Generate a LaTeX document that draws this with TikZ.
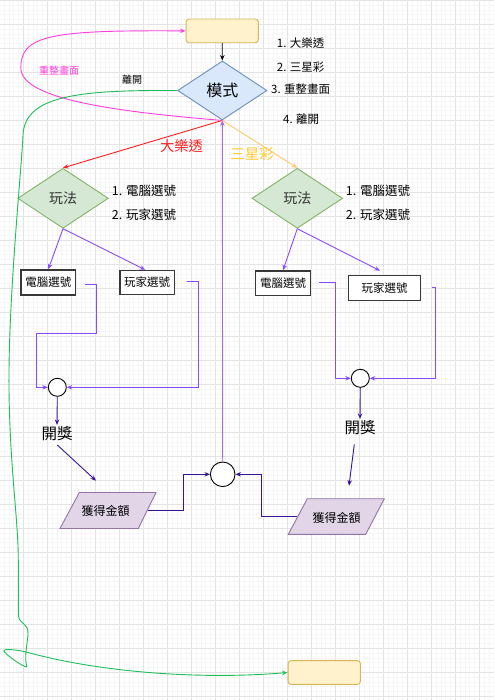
\documentclass[tikz,border=0pt]{standalone}
\usepackage{fontspec}
\setmainfont{Noto Sans CJK TC}
\usetikzlibrary{shapes.geometric,arrows.meta,calc}
\definecolor{gridmajor}{RGB}{228,228,228}
\definecolor{gridminor}{RGB}{246,246,246}
\definecolor{yfill}{HTML}{FFF2CC}
\definecolor{ydraw}{HTML}{D6B656}
\definecolor{bfill}{HTML}{DAE8FC}
\definecolor{bdraw}{HTML}{6C8EBF}
\definecolor{gfill}{HTML}{D5E8D4}
\definecolor{gdraw}{HTML}{82B366}
\definecolor{pfill}{HTML}{E1D5E7}
\definecolor{pdraw}{HTML}{9673A6}
\definecolor{lilac}{RGB}{160,110,210}
\definecolor{violet2}{RGB}{135,75,255}
\definecolor{indigo2}{RGB}{55,20,150}
\definecolor{myred}{RGB}{255,30,30}
\definecolor{myorange}{RGB}{255,200,110}
\definecolor{mylabel}{RGB}{255,204,51}
\definecolor{mymagenta}{RGB}{255,60,220}
\definecolor{mygreen}{RGB}{30,190,90}
\begin{document}
\begin{tikzpicture}[x=1pt,y=-1pt,
  tip/.style={-{Stealth[length=5.5pt,width=4.5pt]}},
  startbox/.style={rectangle,rounded corners=3pt,fill=yfill,draw=ydraw,line width=0.9pt,minimum width=72.3pt,minimum height=23.7pt,inner sep=0},
  decide/.style={diamond,inner sep=0,line width=0.9pt},
  listtxt/.style={anchor=west,inner sep=0,font=\fontsize{12.5}{14}\selectfont},
  toptxt/.style={anchor=west,inner sep=0,font=\fontsize{11.5}{13}\selectfont},
  choice/.style={rectangle,fill=white,draw=black!78,line width=1.4pt,inner sep=0,font=\fontsize{11.5}{13}\selectfont},
  joint/.style={circle,fill=white,draw=black,line width=0.9pt,inner sep=0},
  drawtxt/.style={inner sep=1pt,font=\fontsize{15.5}{17}\selectfont},
  para/.style={fill=pfill,draw=pdraw,line width=0.9pt},
  violetline/.style={violet2,line width=0.9pt},
  indigoline/.style={indigo2,line width=0.9pt}
]
\useasboundingbox (0,0) rectangle (494,700);
\fill[white] (0,0) rectangle (494,700);
% grid
\foreach \k in {0,...,103} \draw[gridminor,line width=0.6pt] (-0.7+4.8*\k,0) -- (-0.7+4.8*\k,700);
\foreach \k in {0,...,146} \draw[gridminor,line width=0.6pt] (0,0.3+4.8*\k) -- (494,0.3+4.8*\k);
\foreach \k in {0,...,20} \draw[gridmajor,line width=0.9pt] (23.3+24*\k,0) -- (23.3+24*\k,700);
\foreach \k in {0,...,29} \draw[gridmajor,line width=0.9pt] (0,0.3+24*\k) -- (494,0.3+24*\k);

% main nodes
\node[startbox] (start) at (222.2,30.9) {};
\node[startbox] (finish) at (324.2,672.5) {};
\node[decide,fill=bfill,draw=bdraw,minimum width=89.3pt,minimum height=59pt,font=\fontsize{16}{18}\selectfont] (mode) at (222.3,90.5) {模式};
\node[decide,fill=gfill,draw=gdraw,minimum width=90.6pt,minimum height=60pt,font=\fontsize{14}{16}\selectfont,text=black!80] (playA) at (63,198.3) {玩法};
\node[decide,fill=gfill,draw=gdraw,minimum width=90.6pt,minimum height=60pt,font=\fontsize{14}{16}\selectfont,text=black!80] (playB) at (297.3,198.3) {玩法};

% menu text
\node[toptxt] (m1) at (276.7,43.3) {1. 大樂透};
\node[toptxt] (m2) at (276.7,67.7) {2. 三星彩};
\node[toptxt] (m3) at (271,89.3) {3. 重整畫面};
\node[toptxt] (m4) at (283,119) {4. 離開};

\node[listtxt] (la1) at (111.7,190.7) {1. 電腦選號};
\node[listtxt] (la2) at (111.7,214.3) {2. 玩家選號};
\node[listtxt] (lb1) at (345.7,190.7) {1. 電腦選號};
\node[listtxt] (lb2) at (345.7,214.3) {2. 玩家選號};

% choice boxes
\node[choice,minimum width=54.7pt,minimum height=25pt] (bA1) at (48.3,282.5) {電腦選號};
\node[choice,minimum width=54.3pt,minimum height=24pt] (bA2) at (147.2,282.5) {玩家選號};
\node[choice,minimum width=54.6pt,minimum height=24.7pt] (bB1) at (283,283.3) {電腦選號};
\node[choice,minimum width=72.4pt,minimum height=24.6pt] (bB2) at (384.5,288) {玩家選號};

% joints
\node[joint,minimum size=18pt] (jA) at (57.3,387.3) {};
\node[joint,minimum size=18pt] (jB) at (360.3,378.3) {};
\node[joint,minimum size=24.6pt] (jC) at (222.7,474.3) {};

% draw texts
\node[drawtxt] (kA) at (57,433.3) {開獎};
\node[drawtxt] (kB) at (360,427.3) {開獎};

% parallelograms
\filldraw[para] (79.3,492.5) -- (156,492.5) -- (138.3,528.5) -- (60,528.5) -- cycle;
\node[font=\fontsize{12}{14}\selectfont,inner sep=0] (pA) at (105.5,511) {獲得金額};
\filldraw[para] (307.3,498.7) -- (384.3,498.7) -- (365.7,534.3) -- (288.3,534.3) -- cycle;
\node[font=\fontsize{12}{14}\selectfont,inner sep=0] (pB) at (336.7,517.7) {獲得金額};

% connectors
\draw[tip,line width=0.9pt] (start.south) -- (mode.north);
\draw[tip,myred,line width=0.9pt] (mode.south) -- (playA.north);
\draw[tip,myorange,line width=0.9pt] (mode.south) -- (playB.north);
\node[myred,font=\fontsize{14.3}{16}\selectfont,inner sep=0] (lblA) at (181.5,146) {大樂透};
\node[mylabel,font=\fontsize{14.5}{16}\selectfont,inner sep=0] (lblB) at (252,154.3) {三星彩};

\draw[tip,violetline] (playA.south) -- (bA1.north);
\draw[tip,violetline] (playA.south) -- ($(bA2.north)+(-2,0)$);
\draw[tip,violetline] (playB.south) -- (bB1.north);
\draw[tip,violetline] (playB.south) -- (380,270.7);

\coordinate (sA1) at (85,284.3);
\coordinate (sA2) at (186.7,281.7);
\coordinate (sB1) at (319,282.3);
\coordinate (sB2) at (432.3,287.3);
\draw[tip,violetline] (sA1) -| (96.3,333.3) -| (36.3,387.3) -- (jA.west);
\draw[tip,violetline] (sA2) -| (198.7,387.3) -- (jA.east);
\draw[tip,violetline] (sB1) -| (335.3,378.3) -- (jB.west);
\draw[tip,violetline] (sB2) -| (435.7,378.3) -- (jB.east);

\draw[tip,indigoline] (jA.south) -- (kA.north);
\draw[tip,indigoline] (jB.south) -- (kB.north);
\coordinate (eA) at (96,480.7);
\coordinate (eB) at (349,485.7);
\draw[tip,indigoline] (57.3,445) -- (eA);
\draw[tip,indigoline] (354.3,444.3) -- (eB);

\coordinate (oA) at (147.5,510.3);
\coordinate (oB) at (296.7,516.3);
\draw[tip,indigoline] (oA) -| (183.3,474.3) -- (jC.west);
\draw[tip,indigoline] (oB) -| (261.3,474.3) -- (jC.east);

\draw[tip,lilac,line width=0.9pt] (jC.north) -- (mode.south);

% back to start (magenta)
\draw[tip,mymagenta,line width=0.9pt] (mode.south) .. controls (120,112) and (25,100) .. (21,70)
  .. controls (19,35) and (50,30) .. (start.west);
\node[mymagenta,font=\fontsize{10}{12}\selectfont,inner sep=0] (lblR) at (59,70.7) {重整畫面};

% exit (green)
\draw[tip,mygreen,line width=0.9pt] (mode.west) .. controls (80,90) and (25,95) .. (23,135)
  .. controls (21.5,170) and (8,300) .. (9,390)
  .. controls (10,470) and (18.3,520) .. (18.3,560)
  -- (18.3,615)
  .. controls (19,625) and (29,622) .. (28,635)
  .. controls (27,645) and (24,660) .. (27,666)
  .. controls (28,670) and (10,658) .. (4.7,652.3)
  .. controls (0,648) and (15,649) .. (30,653)
  .. controls (100,672) and (200,680) .. (finish.west);
\node[font=\fontsize{10}{12}\selectfont,inner sep=0] (lblX) at (132,80) {離開};
\end{tikzpicture}
\end{document}
